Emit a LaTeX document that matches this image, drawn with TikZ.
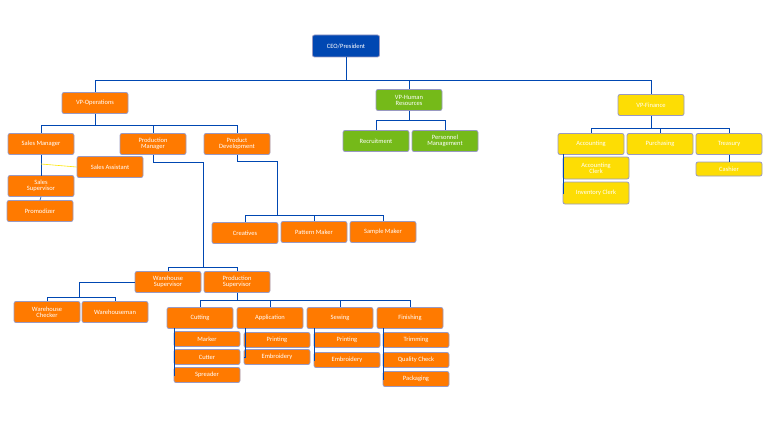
\documentclass[tikz,border=0pt]{standalone}
\usepackage{fontspec}
\setmainfont{Carlito}
\begin{document}
\begin{tikzpicture}[x=1pt,y=-1pt,
 b/.style={draw=black!60!blue!40,line width=0.8pt,rounded corners=2pt,minimum width=66pt,minimum height=21pt,inner sep=1pt,text=white,font=\fontsize{6.5}{7}\selectfont,align=center},
 o/.style={b,fill=orange!70!red!80!yellow},
 os/.style={o,minimum height=15pt},
 g/.style={b,fill=green!50!black!60!yellow!90},
 yb/.style={b,fill=yellow!80!orange},
 ys/.style={yb,minimum height=14pt},
 l/.style={draw=blue!60!cyan!70!black,line width=0.6pt}]
\useasboundingbox (0,0) rectangle (768,433);
\node[b,fill=blue!60!cyan!70!black,minimum height=22pt,minimum width=67pt] (ceo) at (346,46) {CEO/President};
\node[o] (ops) at (95,103) {VP-Operations};
\node[g] (hr) at (409,100) {VP-Human\\[-1pt]Resources};
\node[yb] (fin) at (651,105) {VP-Finance};
\node[o] (sm) at (41,144) {Sales Manager};
\node[o] (pm) at (153,144) {Production\\[-1pt]Manager};
\node[o] (pd) at (237,144) {Product\\[-1pt]Development};
\node[o] (sa) at (110,167) {Sales Assistant};
\node[o] (ss) at (41,186) {Sales\\[-1pt]Supervisor};
\node[o] (pr) at (40,211) {Promodizer};
\node[o] (cr) at (245,233) {Creatives};
\node[o] (pa) at (314,232) {Pattern Maker};
\node[o] (sp) at (383,232) {Sample Maker};
\node[o] (ws) at (168,282) {Warehouse\\[-1pt]Supervisor};
\node[o] (ps) at (237,282) {Production\\[-1pt]Supervisor};
\node[o] (wc) at (47,312) {Warehouse\\[-1pt]Checker};
\node[o] (wm) at (115,312) {Warehouseman};
\node[o] (cu) at (200,318) {Cutting};
\node[o] (ap) at (270,318) {Application};
\node[o] (se) at (340,318) {Sewing};
\node[o] (fi) at (410,318) {Finishing};
\node[os] (ma) at (207,339) {Marker};
\node[os] (ct) at (207,357) {Cutter};
\node[os] (sr) at (207,375) {Spreader};
\node[os] (p1) at (277,340) {Printing};
\node[os] (e1) at (277,357) {Embroidery};
\node[os] (p2) at (347,340) {Printing};
\node[os] (e2) at (347,360) {Embroidery};
\node[os] (tr) at (416,340) {Trimming};
\node[os] (qc) at (416,360) {Quality Check};
\node[os] (pk) at (416,379) {Packaging};
\node[g] (re) at (376,141) {Recruitment};
\node[g] (pe) at (445,141) {Personnel\\[-1pt]Management};
\node[yb] (ac) at (591,144) {Accounting};
\node[yb] (pu) at (660,144) {Purchasing};
\node[yb] (ts) at (729,144) {Treasury};
\node[yb,minimum height=22pt] (acl) at (596,168) {Accounting\\[-1pt]Clerk};
\node[yb,minimum height=22pt] (ic) at (596,193) {Inventory Clerk};
\node[ys] (ca) at (729,169) {Cashier};
% connectors
\draw[l] (ceo.south) -- (346,80) -| (ops.north);
\draw[l] (346,80) -| (hr.north);
\draw[l] (346,80) -| (fin.north);
\draw[l] (ops.south) -- (95,125) -| (sm.north);
\draw[l] (95,125) -| (pm.north);
\draw[l] (95,125) -| (pd.north);
\draw[l] (sm.south) -- (41,176);
\draw[yellow!90!orange,line width=0.6pt] (41,164) -- (sa.west);
\draw[l] (ss.south) -- (pr.north);
\draw[l] (pm.south) |- (203,162) -- (203,267) -| (ws.north);
\draw[l] (203,267) -| (ps.north);
\draw[l] (pd.south) |- (277,161) -- (277,215) -| (cr.north);
\draw[l] (277,215) -| (pa.north);
\draw[l] (277,215) -| (sp.north);
\draw[l] (ws.west) -| (79,297) -| (wc.north);
\draw[l] (79,297) -| (wm.north);
\draw[l] (ps.south) -- (237,300) -| (cu.north);
\draw[l] (237,300) -| (ap.north);
\draw[l] (237,300) -| (se.north);
\draw[l] (237,300) -| (fi.north);
\draw[l] (174,328) |- (sr.west);
\draw[l] (245,328) |- (e1.west);
\draw[l] (314,328) |- (e2.west);
\draw[l] (383,328) |- (pk.west);
\draw[l] (hr.south) -- (409,120) -| (re.north);
\draw[l] (409,120) -| (pe.north);
\draw[l] (fin.south) -- (651,128) -| (ac.north);
\draw[l] (651,128) -| (pu.north);
\draw[l] (651,128) -| (ts.north);
\draw[l] (563,154) |- (ic.west);
\draw[l] (ts.south) -- (ca.north);
\end{tikzpicture}
\end{document}
